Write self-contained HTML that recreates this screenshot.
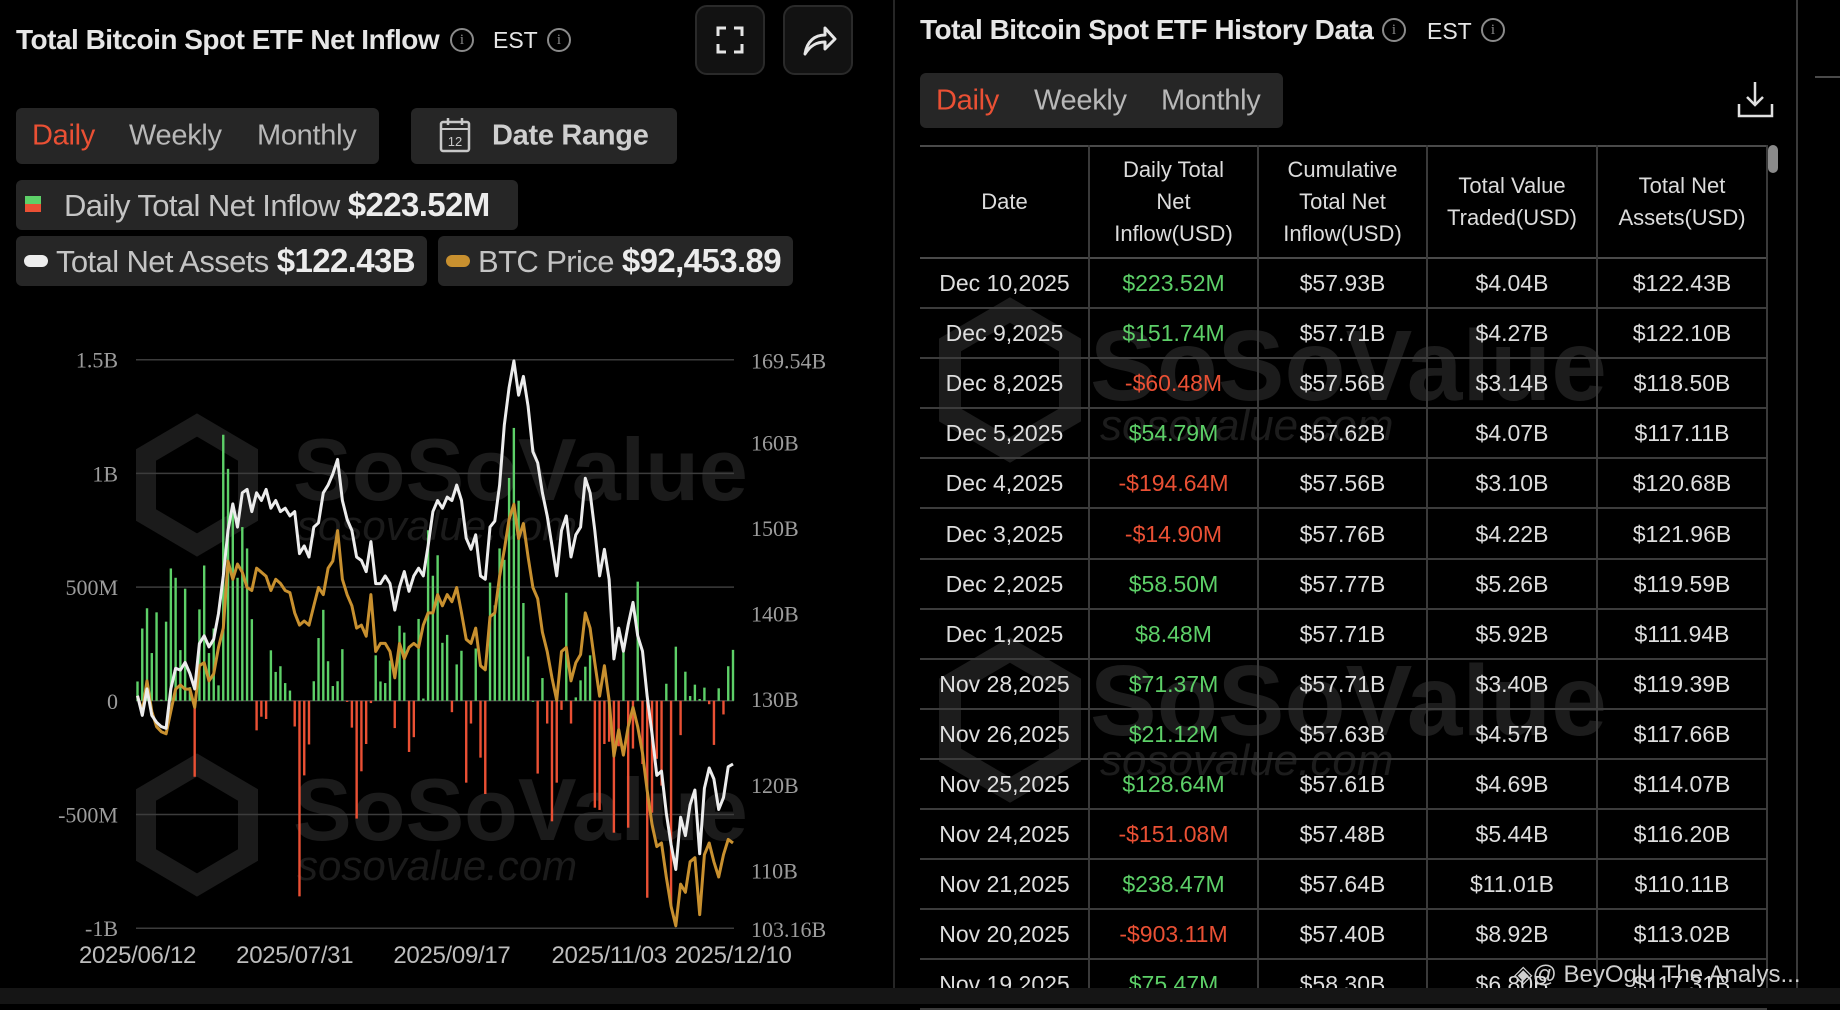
<!DOCTYPE html>
<html><head><meta charset="utf-8">
<style>
html,body{margin:0;padding:0;background:#000;}
body{width:1840px;height:1004px;position:relative;overflow:hidden;font-family:"Liberation Sans",sans-serif;color:#e0e0e0;}
.abs{position:absolute;}
.title{font-weight:bold;font-size:28px;color:#e6e6e6;letter-spacing:-0.5px;white-space:nowrap;}
.info{width:24px;height:24px;border:2px solid #8a8a8a;border-radius:50%;box-sizing:border-box;color:#8a8a8a;font-size:15px;line-height:20px;text-align:center;font-family:"Liberation Serif",serif;}
.est{font-size:23px;color:#e6e6e6;}
.seg{background:#262626;border-radius:6px;}
.seg span{position:absolute;font-size:29px;color:#b8b8b8;top:50%;transform:translateY(-50%);white-space:nowrap;letter-spacing:-0.3px;}
.chip{background:#262626;border-radius:6px;height:50px;}
.chip .lbl{position:absolute;top:6px;font-size:31px;color:#c4c4c4;white-space:nowrap;letter-spacing:-0.6px;}
.chip .val{font-weight:bold;color:#ececec;font-size:33px;}
.iconbtn{background:#121212;border:2px solid #2a2a2a;border-radius:12px;box-sizing:border-box;}
.tbl{position:absolute;left:920px;top:145px;width:847px;}
.hcell{position:absolute;top:0;height:113px;display:flex;align-items:center;justify-content:center;text-align:center;font-size:22px;line-height:32px;color:#dcdcdc;}
.row{position:absolute;left:0;width:847px;height:50px;}
.cell{position:absolute;top:0;height:50px;line-height:50px;text-align:center;font-size:23px;color:#dedede;white-space:nowrap;}
.g{color:#5dd068;}
.r{color:#ea5034;}
</style></head>
<body>

<div class="abs title" style="left:16px;top:24px;">Total Bitcoin Spot ETF Net Inflow</div>
<div class="abs info" style="left:450px;top:28px;">i</div>
<div class="abs est" style="left:493px;top:27px;">EST</div>
<div class="abs info" style="left:547px;top:28px;">i</div>

<div class="abs iconbtn" style="left:695px;top:5px;width:70px;height:70px;">
<svg width="66" height="66" style="position:absolute;left:0;top:0"><g stroke="#e6e6e6" stroke-width="3" fill="none"><path d="M21 29 V21 H29"/><path d="M37 21 H45 V29"/><path d="M45 37 V45 H37"/><path d="M29 45 H21 V37"/></g></svg>
</div>
<div class="abs iconbtn" style="left:783px;top:5px;width:70px;height:70px;">
<svg width="66" height="66" style="position:absolute;left:0;top:0"><path d="M20 47 C22 34 30 28 40 28 L40 21 L50 32 L40 42 L40 35 C31 35 25 39 20 47 Z" stroke="#e6e6e6" stroke-width="3" fill="none" stroke-linejoin="round"/></svg>
</div>

<div class="abs seg" style="left:16px;top:108px;width:363px;height:56px;">
<span style="left:16px;color:#ea5034;">Daily</span>
<span style="left:113px;">Weekly</span>
<span style="left:241px;">Monthly</span>
</div>
<div class="abs seg" style="left:411px;top:108px;width:266px;height:56px;">
<svg width="36" height="40" style="position:absolute;left:27px;top:8px"><rect x="3" y="6" width="28" height="29" rx="2" stroke="#c8c8c8" stroke-width="2.5" fill="none"/><line x1="3" y1="13" x2="31" y2="13" stroke="#c8c8c8" stroke-width="2"/><line x1="10" y1="2" x2="10" y2="9" stroke="#c8c8c8" stroke-width="2.5"/><line x1="24" y1="2" x2="24" y2="9" stroke="#c8c8c8" stroke-width="2.5"/><text x="17" y="30" font-size="13" fill="#c8c8c8" text-anchor="middle" font-family="Liberation Sans">12</text></svg>
<span style="left:81px;font-weight:bold;color:#cfcfcf;">Date Range</span>
</div>

<div class="abs chip" style="left:16px;top:180px;width:502px;">
<div class="abs" style="left:9px;top:16px;width:16px;height:8px;background:#5dd068;"></div>
<div class="abs" style="left:9px;top:24px;width:16px;height:8px;background:#ea5034;"></div>
<div class="lbl" style="left:48px;">Daily Total Net Inflow <span class="val">$223.52M</span></div>
</div>
<div class="abs chip" style="left:16px;top:236px;width:411px;">
<div class="abs" style="left:8px;top:19px;width:24px;height:12px;background:#eee;border-radius:6px;"></div>
<div class="lbl" style="left:40px;">Total Net Assets <span class="val">$122.43B</span></div>
</div>
<div class="abs chip" style="left:438px;top:236px;width:355px;">
<div class="abs" style="left:8px;top:19px;width:24px;height:12px;background:#c8902f;border-radius:6px;"></div>
<div class="lbl" style="left:40px;">BTC Price <span class="val">$92,453.89</span></div>
</div>

<svg id="chart" class="abs" style="left:0;top:0" width="890" height="990"></svg>

<div class="abs" style="left:893px;top:0;width:2px;height:988px;background:#262626;"></div>
<div class="abs" style="left:1796px;top:0;width:2px;height:988px;background:#3a3a3a;"></div>
<div class="abs" style="left:1815px;top:76px;width:25px;height:2px;background:#4a4a4a;"></div>

<div class="abs title" style="left:920px;top:14px;">Total Bitcoin Spot ETF History Data</div>
<div class="abs info" style="left:1382px;top:18px;">i</div>
<div class="abs est" style="left:1427px;top:18px;">EST</div>
<div class="abs info" style="left:1481px;top:18px;">i</div>

<div class="abs seg" style="left:920px;top:73px;width:363px;height:55px;">
<span style="left:16px;color:#ea5034;">Daily</span>
<span style="left:114px;">Weekly</span>
<span style="left:241px;">Monthly</span>
</div>
<svg class="abs" style="left:1736px;top:80px" width="40" height="40"><g stroke="#e0e0e0" stroke-width="2.5" fill="none"><path d="M19 2 V25"/><path d="M11 17 L19 25 L27 17"/><path d="M3 24 V36 H36 V24"/></g></svg>

<svg class="abs" style="left:900px;top:290px" width="900" height="520">
<g fill="#1c1c1c">
<polygon points="110,20 170,55 170,125 110,160 50,125 50,55" fill="none" stroke="#1c1c1c" stroke-width="22"/>
<text x="190" y="110" font-size="100" font-weight="bold" font-family="Liberation Sans">SoSoValue</text>
<text x="200" y="150" font-size="44" font-style="italic" font-family="Liberation Sans">sosovalue.com</text>
<polygon points="110,360 170,395 170,465 110,500 50,465 50,395" fill="none" stroke="#1c1c1c" stroke-width="22"/>
<text x="190" y="445" font-size="100" font-weight="bold" font-family="Liberation Sans">SoSoValue</text>
<text x="200" y="485" font-size="44" font-style="italic" font-family="Liberation Sans">sosovalue.com</text>
</g></svg>

<div id="tbl" class="tbl" style="height:843px;"></div>
<div class="abs" style="left:1768px;top:145px;width:10px;height:28px;background:#8a8a8a;border-radius:5px;"></div>

<div class="abs" style="left:1514px;top:960px;font-size:24px;color:#cfcfcf;white-space:nowrap;">◈@ BeyOglu The Analys...</div>
<div class="abs" style="left:0;top:988px;width:1840px;height:16px;background:#151515;"></div>

<script>
const xTickLabels = ["2025/06/12","2025/07/31","2025/09/17","2025/11/03","2025/12/10"];
const xTickIndex = [0,33,66,99,125];
const leftTickValues = [1500,1000,500,0,-500,-1000];
const leftTickLabels = ["1.5B","1B","500M","0","-500M","-1B"];
const rightTickValues = [169.54,160,150,140,130,120,110,103.16];
const rightTickLabels = ["169.54B","160B","150B","140B","130B","120B","110B","103.16B"];
const netInflow = [85,318,407,210,389,5,348,582,541,223,
493,60,-334,402,595,210,318,68,1170,1020,
857,541,764,670,359,-130,-70,-80,222,127,
152,78,45,-113,-860,-328,-192,86,276,400,
174,65,86,227,-5,-118,-518,-310,-190,-10,
200,85,78,177,-120,330,300,-225,-160,360,
10,750,550,640,255,290,-50,160,220,-360,
-100,230,-250,-410,520,420,670,620,980,1200,
880,430,195,0,-320,100,-100,-530,-360,-40,
475,-100,15,90,150,200,-470,-480,-190,-180,
-580,-200,215,-558,-210,524,-278,-866,-492,-255,
-373,75,-903,238,-151,128,21,71,8,58,
-15,-194,55,-60,152,224];
const totalNetAssets = [130.4,128.1,131.2,128.1,127.3,126.8,126.6,131.2,133.6,133.4,
134.3,133.0,131.2,136.5,137.4,136.1,137.0,140.0,144.4,149.7,
152.8,150.1,154.1,154.5,151.9,154.1,153.2,154.5,152.3,153.2,
151.9,152.3,151.4,151.9,147.0,147.9,146.6,150.1,150.6,154.1,
155.0,156.3,158.0,153.2,151.0,149.7,146.6,146.2,144.9,148.4,
143.5,143.5,144.4,143.5,140.4,143.1,144.9,142.6,144.4,145.3,
144.4,147.9,151.9,153.2,152.3,153.6,153.2,155.0,153.2,148.8,
147.5,149.2,144.4,144.0,150.1,150.8,155.0,162.0,166.4,169.5,
165.5,167.7,164.2,158.9,157.6,154.1,151.4,147.9,144.4,149.7,
151.4,146.6,149.2,150.1,155.8,154.1,149.7,144.4,147.5,144.0,
134.7,138.3,135.6,138.7,141.3,137.4,135.6,130.3,126.0,121.1,
121.6,116.7,113.02,110.11,116.20,114.07,117.66,119.39,111.94,119.59,
121.96,120.68,117.11,118.50,122.10,122.43];
const btcPriceK = [106.9,105.4,108.4,105.4,103.9,103.4,103.2,105.4,107.6,108.0,
107.6,107.6,105.8,109.9,110.2,108.4,109.1,111.7,113.6,120.2,
118.4,119.9,119.1,117.6,117.3,119.5,119.1,118.7,117.3,118.4,
118.0,117.3,117.1,115.1,113.9,114.3,113.9,115.8,117.6,116.9,
119.5,120.2,123.2,118.4,116.9,115.8,113.6,113.9,112.8,116.9,
111.3,112.1,112.1,111.3,108.7,112.1,110.6,111.7,112.1,111.7,
113.9,115.1,115.1,116.9,115.8,116.9,116.2,117.6,115.1,112.5,
112.1,113.6,109.9,109.5,114.7,115.1,118.7,121.3,124.3,125.8,
122.4,123.9,120.6,117.6,116.5,113.2,111.3,108.7,106.5,111.3,
111.7,108.4,110.2,111.0,115.1,113.6,110.2,106.9,109.9,106.5,
101.0,103.6,101.1,103.9,105.8,103.9,101.3,97.6,94.3,92.1,
92.45,89.1,86.2,84.3,88.4,87.6,90.6,91.0,85.4,91.3,
92.45,90.6,89.1,91.3,92.8,92.45];

const X0 = 137.5, X1 = 733;
const PL = 136, PR = 734;
function xPos(i){ return X0 + (X1 - X0) * i / (netInflow.length - 1); }
function yLeft(v){ return 700.8 - v * (113.7/500); }
function yRight(b){ return 929 - (b - 103.16) * (568.4 / (169.54 - 103.16)); }
function yPrice(p){ return 843 - (p - 92.45) * 10.16; }

const NS = "http://www.w3.org/2000/svg";
const svg = document.getElementById("chart");
function mk(tag, attrs, parent){
  const e = document.createElementNS(NS, tag);
  for (const k in attrs) e.setAttribute(k, attrs[k]);
  (parent || svg).appendChild(e);
  return e;
}

const wm = mk("g", {fill:"#1b1b1b"});


[0, 340].forEach((oy) => {
  mk("polygon", {points:`197,${425+oy} 248,${455+oy} 248,${515+oy} 197,${545+oy} 146,${515+oy} 146,${455+oy}`, fill:"none", stroke:"#1b1b1b", "stroke-width":"20"}, wm);
  const t = mk("text", {x:293, y:500+oy, "font-size":"88", "font-weight":"bold", "font-family":"Liberation Sans"}, wm);
  t.textContent = "SoSoValue";
  const t2 = mk("text", {x:297, y:540+oy, "font-size":"42", "font-style":"italic", "font-family":"Liberation Sans"}, wm);
  t2.textContent = "sosovalue.com";
});

leftTickValues.forEach((v, k) => {
  const y = yLeft(v);
  const gl = mk("line", {x1:PL, x2:PR, y1:y, y2:y, stroke:"#3c3c3c", "stroke-width":"1.5"});
  
  
  const t = mk("text", {x:118, y:y+8, "text-anchor":"end", "font-size":"22", fill:"#9c9c9c", "font-family":"Liberation Serif"});
  
  
  t.textContent = leftTickLabels[k];
});
rightTickValues.forEach((v, k) => {
  const t = mk("text", {x:751, y:yRight(v)+8, "font-size":"22", fill:"#9c9c9c", "font-family":"Liberation Serif"});
  
  
  t.textContent = rightTickLabels[k];
});
xTickIndex.forEach((i, k) => {
  const t = mk("text", {x:xPos(i), y:963, "text-anchor":"middle", "font-size":"24", fill:"#bdbdbd", "font-family":"Liberation Sans", "letter-spacing":"-0.3"});
  
  
  t.textContent = xTickLabels[k];
});

netInflow.forEach((v, i) => {
  const y0 = yLeft(0), y = yLeft(v);
  const b = mk("rect", {x:xPos(i)-1.2, y:Math.min(y, y0), width:2.4, height:Math.max(1, Math.abs(y - y0)), fill: v >= 0 ? "#5dd068" : "#ea5034"});
  
  
});

function linePath(arr, yf){
  return arr.map((v, i) => (i ? "L" : "M") + xPos(i).toFixed(1) + " " + yf(v).toFixed(1)).join(" ");
}
const gold = mk("path", {d:linePath(btcPriceK, yPrice), fill:"none", stroke:"#c8902f", "stroke-width":"3", "stroke-linejoin":"round"});


const white = mk("path", {d:linePath(totalNetAssets, yRight), fill:"none", stroke:"#ececec", "stroke-width":"3", "stroke-linejoin":"round"});



const colX = [0,169,338,507,677,847];
const headers = ["Date","Daily Total<br>Net<br>Inflow(USD)","Cumulative<br>Total Net<br>Inflow(USD)","Total Value<br>Traded(USD)","Total Net<br>Assets(USD)"];
const rows = [
["Dec 10,2025","$223.52M","$57.93B","$4.04B","$122.43B"],
["Dec 9,2025","$151.74M","$57.71B","$4.27B","$122.10B"],
["Dec 8,2025","-$60.48M","$57.56B","$3.14B","$118.50B"],
["Dec 5,2025","$54.79M","$57.62B","$4.07B","$117.11B"],
["Dec 4,2025","-$194.64M","$57.56B","$3.10B","$120.68B"],
["Dec 3,2025","-$14.90M","$57.76B","$4.22B","$121.96B"],
["Dec 2,2025","$58.50M","$57.77B","$5.26B","$119.59B"],
["Dec 1,2025","$8.48M","$57.71B","$5.92B","$111.94B"],
["Nov 28,2025","$71.37M","$57.71B","$3.40B","$119.39B"],
["Nov 26,2025","$21.12M","$57.63B","$4.57B","$117.66B"],
["Nov 25,2025","$128.64M","$57.61B","$4.69B","$114.07B"],
["Nov 24,2025","-$151.08M","$57.48B","$5.44B","$116.20B"],
["Nov 21,2025","$238.47M","$57.64B","$11.01B","$110.11B"],
["Nov 20,2025","-$903.11M","$57.40B","$8.92B","$113.02B"],
["Nov 19,2025","$75.47M","$58.30B","$6.80B","$117.31B"]
];
const tbl = document.getElementById("tbl");
let html = '<div style="position:absolute;left:0;top:0;width:847px;height:2px;background:#4a4a4a"></div>';
html += '<div style="position:absolute;left:0;top:112px;width:847px;height:2px;background:#4a4a4a"></div>';
for (let c = 1; c < 6; c++) html += `<div style="position:absolute;left:${colX[c]-1}px;top:0;width:2px;height:843px;background:#3a3a3a"></div>`;
headers.forEach((h, c) => {
  html += `<div class="hcell" style="left:${colX[c]}px;width:${colX[c+1]-colX[c]}px;">${h}</div>`;
});
rows.forEach((r, k) => {
  const top = 113 + k * 50.1;
  html += `<div class="row" style="top:${top}px;">`;
  r.forEach((v, c) => {
    let cls = "cell";
    if (c === 1) cls += v.startsWith("-") ? " r" : " g";
    html += `<div class="${cls}" style="left:${colX[c]}px;width:${colX[c+1]-colX[c]}px;">${v}</div>`;
  });
  html += `<div style="position:absolute;left:0;top:49px;width:847px;height:2px;background:#3c3c3c"></div></div>`;
});
tbl.innerHTML = html;
</script>
</body></html>
